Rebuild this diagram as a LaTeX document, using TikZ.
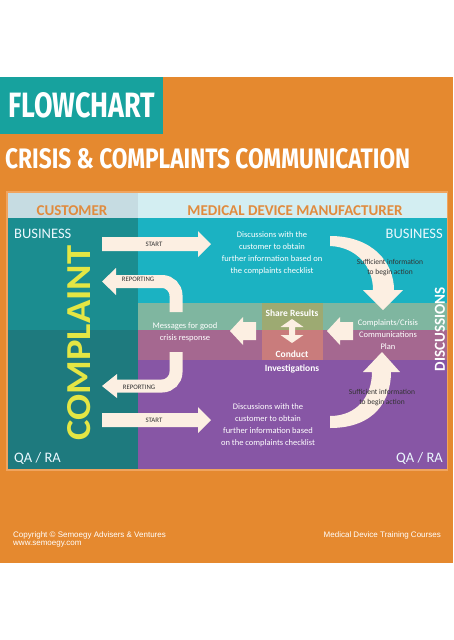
\documentclass[tikz,border=0pt]{standalone}
\usepackage{fontspec}
\usepackage{graphicx}
\setmainfont{Carlito}
\newfontfamily\titlefont{Fira Sans}
\newfontfamily\footfont{Liberation Sans}
\definecolor{orangeBG}{HTML}{E5892F}
\definecolor{tealFC}{HTML}{17A29E}
\definecolor{frameC}{HTML}{F0A45E}
\definecolor{custHead}{HTML}{C6DCE2}
\definecolor{manHead}{HTML}{D3EEF2}
\definecolor{custTop}{HTML}{1B8D90}
\definecolor{custBot}{HTML}{1E7A7E}
\definecolor{manTop}{HTML}{1BB2C2}
\definecolor{greenBand}{HTML}{7FB6A0}
\definecolor{mauveBand}{HTML}{A56890}
\definecolor{purpleBand}{HTML}{8756A5}
\definecolor{shareBox}{HTML}{9DAA72}
\definecolor{conductBox}{HTML}{C97C7C}
\definecolor{cream}{HTML}{FCEFE2}
\definecolor{headTxt}{HTML}{E08B3E}
\definecolor{yellowTxt}{HTML}{E4E644}
\definecolor{darkTxt}{HTML}{333333}
\tikzset{
  bodytxt/.style={text=white, font=\fontsize{8.5}{12}\selectfont, align=center, inner sep=0},
  boldtxt/.style={text=white, font=\bfseries\fontsize{9.5}{14.5}\selectfont, align=center, inner sep=0},
  smalltxt/.style={text=darkTxt, font=\fontsize{7.5}{10}\selectfont, align=center, inner sep=0},
  lbl/.style={text=darkTxt, font=\fontsize{6.8}{7}\selectfont, inner sep=0},
  headtxt/.style={text=headTxt, font=\bfseries\fontsize{15}{15}\selectfont, inner sep=0, anchor=base},
  zonetxt/.style={text=white!92!cyan, font=\fontsize{14.5}{15}\selectfont, inner sep=0},
  foottxt/.style={text=white, font=\footfont\fontsize{8}{8}\selectfont, inner sep=0},
  arrowfill/.style={fill=cream, draw=none}
}
\begin{document}
\begin{tikzpicture}[x=1pt,y=-1pt]
\useasboundingbox (0,0) rectangle (453,640);
\fill[white] (0,0) rectangle (453,640);
\fill[orangeBG] (0,77) rectangle (453,563);
\fill[tealFC] (0,77) rectangle (163,134);
\node[anchor=base west, inner sep=0, text=white] (flow) at (8,117)
  {\resizebox{147pt}{25pt}{\titlefont\bfseries FLOWCHART}};
\node[anchor=base west, inner sep=0, text=white] (title) at (5,168)
  {\resizebox{405pt}{20pt}{\titlefont\bfseries CRISIS \& COMPLAINTS COMMUNICATION}};
% panel
\fill[frameC] (6,191) rectangle (448,471);
\fill[custHead] (7.5,193) rectangle (138,218);
\fill[manHead] (138,193) rectangle (446.5,218);
\fill[custTop] (7.5,218) rectangle (138,330);
\fill[custBot] (7.5,330) rectangle (138,469);
\fill[manTop] (138,218) rectangle (446.5,303);
\fill[greenBand] (138,303) rectangle (446.5,330);
\fill[mauveBand] (138,330) rectangle (446.5,360);
\fill[purpleBand] (138,360) rectangle (446.5,469);
\fill[shareBox] (262,303) rectangle (323,330);
\fill[conductBox] (262,330) rectangle (323,360);
% headers
\node[headtxt] (cust) at (72,215) {CUSTOMER};
\node[headtxt] (manu) at (295,215) {MEDICAL DEVICE MANUFACTURER};
\node[zonetxt, anchor=base west] (busL) at (14,238) {BUSINESS};
\node[zonetxt, anchor=base east] (busR) at (443,238) {BUSINESS};
\node[zonetxt, anchor=base west] (qaL) at (14,462) {QA / RA};
\node[zonetxt, anchor=base east] (qaR) at (443,462) {QA / RA};
\node[rotate=90, inner sep=0, text=yellowTxt] (compl) at (79,343)
  {\resizebox{195pt}{23pt}{\bfseries COMPLAINT}};
\node[rotate=90, inner sep=0, text=white] (disc) at (440,329)
  {\resizebox{84pt}{10pt}{\bfseries DISCUSSIONS}};
% straight START arrows
\fill[arrowfill] (102,237) -- (198,237) -- (198,231) -- (211,244) -- (198,257) -- (198,251) -- (102,251) -- cycle;
\node[lbl] (start1) at (154,244) {START};
\fill[arrowfill] (102,413) -- (198,413) -- (198,407) -- (211,420) -- (198,433) -- (198,427) -- (102,427) -- cycle;
\node[lbl] (start2) at (154,420) {START};
% REPORTING arrows
\draw[cream, line width=13pt, rounded corners=14pt] (176,312) -- (176,281.5) -- (114,281.5);
\fill[arrowfill] (116,268) -- (102,281.5) -- (116,295) -- cycle;
\node[lbl] (rep1) at (138,279.5) {REPORTING};
\draw[cream, line width=13pt, rounded corners=14pt] (176,352) -- (176,386) -- (114,386);
\fill[arrowfill] (117,374) -- (102,386) -- (117,398) -- cycle;
\node[lbl] (rep2) at (139,387) {REPORTING};
% curved arrows
\fill[arrowfill] (330,236) .. controls (372,236) and (394,262) .. (394,290)
  -- (403,290) -- (383,310) -- (363,290) -- (373,290)
  .. controls (373,266) and (356,247) .. (330,246) -- cycle;
\fill[arrowfill] (330,428) .. controls (375,428) and (391,400) .. (391,372)
  -- (400,372) -- (382,352) -- (363,372) -- (372,372)
  .. controls (372,395) and (358,416) .. (330,416) -- cycle;
\node[smalltxt] (suf1) at (390,268) {Sufficient information\\to begin action};
\node[smalltxt] (suf2) at (382,398) {Sufficient information\\to begin action};
% middle arrows
\fill[arrowfill] (230,331) -- (243,317) -- (243,322) -- (256,322) -- (256,340) -- (243,340) -- (243,345) -- cycle;
\fill[arrowfill] (327,331) -- (340,317) -- (340,322) -- (353,322) -- (353,340) -- (340,340) -- (340,345) -- cycle;
\fill[arrowfill] (292,319) -- (303.5,327) -- (295,327) -- (295,335) -- (303.5,335) -- (292,343) -- (280.5,335) -- (289,335) -- (289,327) -- (280.5,327) -- cycle;
% texts
\node[bodytxt] (disc1) at (272,253) {Discussions with the\\customer to obtain\\further information based on\\the complaints checklist};
\node[bodytxt] (disc2) at (268,425) {Discussions with the\\customer to obtain\\further information based\\on the complaints checklist};
\node[bodytxt] (msg) at (185,332) {Messages for good\\crisis response};
\node[bodytxt] (plan) at (388,335) {Complaints/Crisis\\Communications\\Plan};
\node[boldtxt] (share) at (292,313) {Share Results};
\node[boldtxt] (cond) at (292,362) {Conduct\\Investigations};
% footer
\node[foottxt, anchor=base west] (copy) at (13,537.5) {Copyright © Semoegy Advisers \& Ventures};
\node[foottxt, anchor=base west] (www) at (13,545.5) {www.semoegy.com};
\node[foottxt, anchor=base east] (mdtc) at (441,537.5) {Medical Device Training Courses};
\end{tikzpicture}
\end{document}
